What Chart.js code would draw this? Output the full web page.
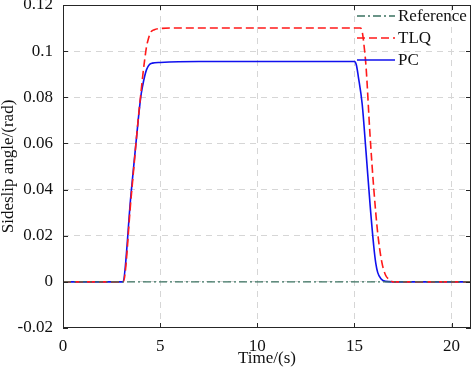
<!DOCTYPE html>
<html>
<head>
<meta charset="utf-8">
<script src="https://cdn.jsdelivr.net/npm/chart.js@4.4.0/dist/chart.umd.min.js"></script>
<style>
    html, body { margin: 0; padding: 0; background: #ffffff; }
</style>
</head>
<body>
<canvas id="graficoSideslip" width="474" height="369"></canvas>
<script>
// dados (tempo em s, ângulo em rad)
const tempoRef = [0, 21];
const valorRef = [0, 0];

const tempoTLQ = [0, 3.1, 3.5, 3.9, 4.0, 4.1, 4.2, 4.3, 4.4, 4.5, 4.7, 5.0, 5.5, 15.3, 15.4, 15.5, 15.6, 15.8, 16.0, 16.2, 16.4, 16.6, 16.8, 17.0, 21];
const valorTLQ = [0, 0, 0.036, 0.073, 0.081, 0.089, 0.096, 0.102, 0.1055, 0.108, 0.1093, 0.1098, 0.11, 0.11, 0.1085, 0.102, 0.093, 0.064, 0.04, 0.021, 0.009, 0.003, 0.001, 0, 0];

const tempoPC = [0, 3.07, 3.5, 3.87, 4.0, 4.1, 4.2, 4.3, 4.45, 4.6, 5.0, 7.0, 15.0, 15.1, 15.2, 15.4, 15.6, 15.8, 16.0, 16.1, 16.2, 16.35, 16.6, 17.0, 21];
const valorPC = [0, 0, 0.038, 0.07, 0.08, 0.085, 0.089, 0.092, 0.0942, 0.0948, 0.0951, 0.0955, 0.0955, 0.094, 0.089, 0.077, 0.056, 0.034, 0.015, 0.008, 0.004, 0.0015, 0.0002, 0, 0];

const ticksX = [0, 5, 10, 15, 20];
const ticksY = [-0.02, 0, 0.02, 0.04, 0.06, 0.08, 0.1, 0.12];

const fonte = "'Liberation Serif', 'Times New Roman', serif";

function pontos(tempos, valores) {
    return tempos.map((t, i) => ({ x: t, y: valores[i] }));
}

// moldura, ticks internos (estilo MATLAB) e legenda dentro do gráfico
const moldura = {
    id: 'moldura',
    afterDraw(chart) {
        const { ctx, chartArea: a, scales } = chart;
        ctx.save();
        ctx.strokeStyle = '#262626';
        ctx.lineWidth = 1;
        ctx.setLineDash([]);
        ctx.strokeRect(a.left + 0.5, a.top + 0.5, a.right - a.left - 1, a.bottom - a.top - 1);

        ctx.beginPath();
        ticksX.forEach(v => {
            const px = Math.round(scales.x.getPixelForValue(v)) + 0.5;
            ctx.moveTo(px, a.bottom); ctx.lineTo(px, a.bottom - 5);
            ctx.moveTo(px, a.top); ctx.lineTo(px, a.top + 5);
        });
        ticksY.forEach(v => {
            const py = Math.round(scales.y.getPixelForValue(v)) + 0.5;
            ctx.moveTo(a.left, py); ctx.lineTo(a.left + 5, py);
            ctx.moveTo(a.right, py); ctx.lineTo(a.right - 5, py);
        });
        ctx.stroke();

        // legenda
        ctx.font = '17px ' + fonte;
        ctx.textBaseline = 'middle';
        ctx.textAlign = 'left';
        chart.data.datasets.forEach((ds, i) => {
            const yy = a.top + 11 + i * 22;
            ctx.strokeStyle = ds.borderColor;
            ctx.lineWidth = ds.borderWidth;
            ctx.setLineDash(ds.borderDash || []);
            ctx.beginPath();
            ctx.moveTo(a.right - 114, yy);
            ctx.lineTo(a.right - 76, yy);
            ctx.stroke();
            ctx.fillStyle = '#111111';
            ctx.fillText(ds.label, a.right - 73, yy + 1);
        });
        ctx.restore();
    }
};

new Chart(document.getElementById('graficoSideslip').getContext('2d'), {
    type: 'line',
    data: {
        datasets: [
            {
                label: 'Reference',
                data: pontos(tempoRef, valorRef),
                borderColor: '#3a7260',
                borderWidth: 1.3,
                borderDash: [8, 3, 2, 3],
                pointRadius: 0,
                fill: false
            },
            {
                label: 'TLQ',
                data: pontos(tempoTLQ, valorTLQ),
                borderColor: '#ff1a1a',
                borderWidth: 1.6,
                borderDash: [8, 4],
                pointRadius: 0,
                cubicInterpolationMode: 'monotone',
                fill: false
            },
            {
                label: 'PC',
                data: pontos(tempoPC, valorPC),
                borderColor: '#1010ee',
                borderWidth: 1.6,
                pointRadius: 0,
                cubicInterpolationMode: 'monotone',
                fill: false
            }
        ]
    },
    options: {
        responsive: false,
        animation: false,
        layout: { padding: { top: 5, right: 3, left: 0, bottom: 0 } },
        plugins: {
            legend: { display: false },
            tooltip: { enabled: false }
        },
        scales: {
            x: {
                type: 'linear',
                min: 0,
                max: 21,
                afterFit: s => {
                    s.height = 41;
                    s.paddingLeft = 0; s.paddingRight = 0;
                },
                afterBuildTicks: s => { s.ticks = ticksX.map(v => ({ value: v })); },
                ticks: {
                    color: '#111111',
                    font: { family: fonte, size: 17 },
                    padding: 8,
                    maxRotation: 0
                },
                grid: {
                    color: ctx => (ctx.tick && ctx.tick.value > 0) ? '#d6d6d6' : 'rgba(0,0,0,0)',
                    drawTicks: false,
                    lineWidth: 1
                },
                border: { display: false, dash: [6, 5] },
                title: {
                    display: true,
                    text: 'Time/(s)',
                    color: '#111111',
                    font: { family: fonte, size: 17, lineHeight: 1 },
                    padding: { top: 0, bottom: 2 }
                }
            },
            y: {
                min: -0.02,
                max: 0.12,
                afterFit: s => {
                    s.width = 63;
                    s.paddingTop = 0; s.paddingBottom = 0;
                },
                afterBuildTicks: s => { s.ticks = ticksY.map(v => ({ value: v })); },
                ticks: {
                    color: '#111111',
                    font: { family: fonte, size: 17 },
                    padding: 10,
                    callback: v => String(+v.toFixed(2))
                },
                grid: {
                    color: ctx => (ctx.tick && ctx.tick.value > -0.015 && ctx.tick.value < 0.115) ? '#d6d6d6' : 'rgba(0,0,0,0)',
                    drawTicks: false,
                    lineWidth: 1
                },
                border: { display: false, dash: [6, 5] },
                title: {
                    display: true,
                    text: 'Sideslip angle/(rad)',
                    color: '#111111',
                    font: { family: fonte, size: 17, lineHeight: 1 },
                    padding: { top: 0, bottom: 0 }
                }
            }
        }
    },
    plugins: [moldura]
});
</script>
</body>
</html>
